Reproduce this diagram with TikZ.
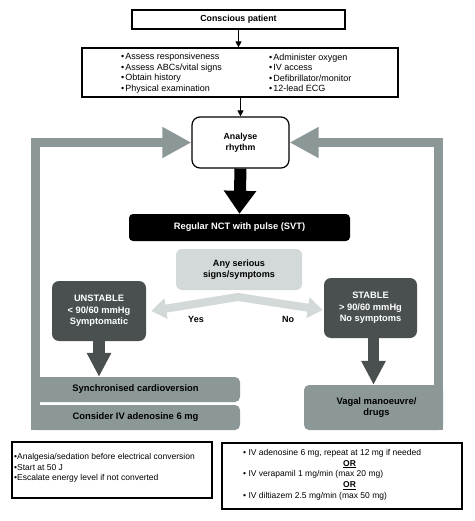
\documentclass[tikz,border=0pt]{standalone}
\usepackage{fontspec}
\setmainfont{Liberation Sans}
\usetikzlibrary{arrows.meta}
\definecolor{slate}{HTML}{8C9797}
\definecolor{darkslate}{HTML}{4A5050}
\definecolor{lightslate}{HTML}{D3D8D8}
\begin{document}
\begin{tikzpicture}[x=1pt,y=-1pt,
  every node/.style={font=\fontsize{9}{10.5}\selectfont, inner sep=0pt},
  plainbox/.style={draw=black, line width=1.2pt, fill=white},
  roundbox/.style={draw=black, line width=1.2pt, fill=white, rounded corners=8pt},
  blackbox/.style={fill=black, text=white, rounded corners=4pt, font=\fontsize{9.3}{10.5}\selectfont\bfseries},
  lightbox/.style={fill=lightslate, rounded corners=6pt, align=center, font=\fontsize{9.1}{11}\selectfont\bfseries},
  darkbox/.style={fill=darkslate, text=white, rounded corners=7pt, align=center, font=\fontsize{9.3}{11.5}\selectfont\bfseries},
  slatebox/.style={fill=slate, rounded corners=5pt, align=center, font=\fontsize{9.4}{11.8}\selectfont\bfseries},
  looparrow/.style={draw=slate, line width=9.5pt, line join=miter, -{Triangle[length=29pt,width=29pt]}},
  fatblack/.style={draw=black, line width=12pt, -{Triangle[length=23pt,width=31pt]}},
  fatdark/.style={draw=darkslate, line width=11.5pt, -{Triangle[length=24pt,width=23pt]}},
  thinarrow/.style={draw=black, line width=1.2pt, -{Triangle[length=6pt,width=6pt]}},
  fork/.style={draw=lightslate, line width=8pt, line join=miter, {Triangle[length=15pt,width=20pt]}-{Triangle[length=15pt,width=20pt]}},
  note/.style={anchor=west, align=left, font=\fontsize{8.5}{10.7}\selectfont}
]
\useasboundingbox (0,0) rectangle (474,521);

% top boxes
\node[plainbox, minimum width=213pt, minimum height=19pt, font=\fontsize{8.8}{10.5}\selectfont\bfseries] (cp) at (238.5,19.5) {Conscious patient};
\node[plainbox, minimum width=316pt, minimum height=49pt] (as) at (240,72.5) {};
\node[anchor=west, align=left] (asl) at (121,73) {•\kern1pt Assess responsiveness\\•\kern1pt Assess ABCs/vital signs\\•\kern1pt Obtain history\\•\kern1pt Physical examination};
\node[anchor=west, align=left] (asr) at (269,73) {•\kern1pt Administer oxygen\\•\kern1pt IV access\\•\kern1pt Defibrillator/monitor\\•\kern1pt 12-lead ECG};
\node[roundbox, minimum width=97pt, minimum height=51pt, align=center, font=\fontsize{8.8}{11}\selectfont\bfseries] (ar) at (240.5,142.5) {Analyse\\rhythm};

\draw[thinarrow] (cp.south) -- (cp.south |- as.north);
\draw[thinarrow] (as.south -| ar.north) -- (ar.north);

% NCT
\node[blackbox, minimum width=221pt, minimum height=27pt] (nct) at (239.5,227.5) {Regular NCT with pulse (SVT)};
\draw[fatblack] (ar.south) -- (nct.north);

% decision
\node[lightbox, minimum width=126pt, minimum height=41pt] (q) at (239,269.5) {Any serious\\signs/symptoms};
\node[darkbox, minimum width=94pt, minimum height=60pt] (un) at (99,311) {UNSTABLE\\< 90/60 mmHg\\Symptomatic};
\node[darkbox, minimum width=93pt, minimum height=60pt] (st) at (370.5,308) {STABLE\\> 90/60 mmHg\\No symptoms};
\coordinate (fk) at (238,297);
\draw[fork] ([xshift=5pt]un.east) -- (fk) -- ([xshift=-1pt,yshift=-2pt]st.west);
\node[font=\fontsize{9}{10.5}\selectfont\bfseries] (yes) at (196,319) {Yes};
\node[font=\fontsize{9}{10.5}\selectfont\bfseries] (no) at (288,319) {No};

% treatment boxes
\node[slatebox, minimum width=209pt, minimum height=25pt] (sync) at (135.5,389.5) {Synchronised cardioversion};
\node[slatebox, minimum width=209pt, minimum height=25pt] (ivad) at (135.5,417.5) {Consider IV adenosine 6 mg};
\node[slatebox, minimum width=139pt, minimum height=45pt] (vg) at (373.5,407.5) {\hspace*{6pt}Vagal manoeuvre/\\\hspace*{6pt}drugs};

\draw[fatdark] (un.south) -- (un.south |- sync.north);
\draw[fatdark] ([xshift=3pt]st.south) -- ([xshift=3pt]st.south |- vg.north);

% loops
\coordinate (lb) at (35.5,430);
\coordinate (rb) at (438.5,430);
\draw[looparrow] (lb) |- (ar.west);
\draw[looparrow] (rb) |- (ar.east);

% bottom notes
\node[plainbox, minimum width=200pt, minimum height=56pt] (nl) at (112,470) {};
\node[note] (nlt) at (14,468) {•Analgesia/sedation before electrical conversion\\•Start at 50 J\\•Escalate energy level if not converted};
\node[plainbox, minimum width=240pt, minimum height=66pt] (nr) at (342,476) {};
\node[note] (nrt) at (243,474.5) {• IV adenosine 6 mg, repeat at 12 mg if needed\\\hspace*{100pt}\underline{\bfseries OR}\\• IV verapamil 1 mg/min (max 20 mg)\\\hspace*{100pt}\underline{\bfseries OR}\\• IV diltiazem 2.5 mg/min (max 50 mg)};
\end{tikzpicture}
\end{document}
